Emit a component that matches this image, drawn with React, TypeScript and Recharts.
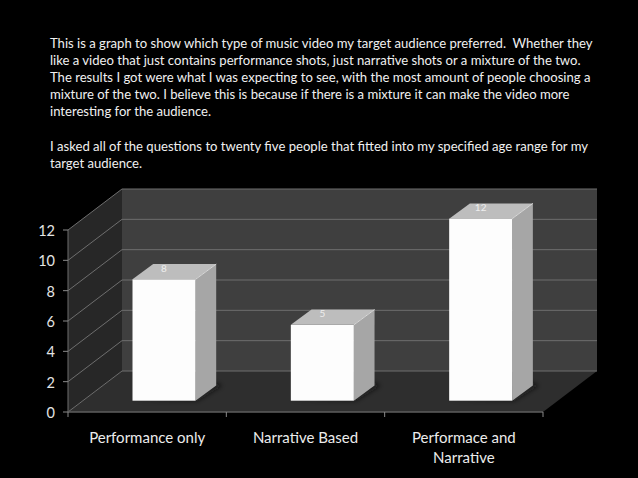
import { Bar, BarChart, Customized, LabelList, Text, XAxis, YAxis } from 'recharts';

const categories = ['Performance only', 'Narrative Based', 'Performace and Narrative'];
const votes = [8, 5, 12];
const yTicks = [0, 2, 4, 6, 8, 10, 12];
const paragraphLines = [
  'This is a graph to show which type of music video my target audience preferred.  Whether they',
  'like a video that just contains performance shots, just narrative shots or a mixture of the two.',
  'The results I got were what I was expecting to see, with the most amount of people choosing a',
  'mixture of the two. I believe this is because if there is a mixture it can make the video more',
  'interesting for the audience.',
  '',
  'I asked all of the questions to twenty five people that fitted into my specified age range for my',
  'target audience.',
];

const chartData = categories.map((name, i) => ({ name, votes: votes[i] }));

const FONT = 'Lato, "Open Sans", sans-serif';
const LEFT = 68;
const RIGHT = 543;
const TOP = 230;
const BOTTOM = 412;
const WALL_DX = 54;
const WALL_DY = 41;
const BAR_DX = 16.5;
const BAR_DY = 11.3;
const SIDE_DX = 20.7;
const SIDE_DY = 15.3;

function pts(list: number[][]) {
  return list.map((p) => p.join(',')).join(' ');
}

// the 3d box the bars stand in: back wall, side wall and floor
function Frame() {
  const yFor = (v: number) => BOTTOM - (v / 12) * (BOTTOM - TOP);
  const step = (RIGHT - LEFT) / categories.length;
  return (
    <g>
      <defs>
        <filter id="blur" x="-30%" y="-30%" width="160%" height="160%">
          <feGaussianBlur stdDeviation="2.5" />
        </filter>
      </defs>
      <polygon
        points={pts([[LEFT + WALL_DX, TOP - WALL_DY], [RIGHT + WALL_DX, TOP - WALL_DY], [RIGHT + WALL_DX, BOTTOM - WALL_DY], [LEFT + WALL_DX, BOTTOM - WALL_DY]])}
        fill="#3f3f3f"
      />
      <polygon
        points={pts([[LEFT, TOP], [LEFT + WALL_DX, TOP - WALL_DY], [LEFT + WALL_DX, BOTTOM - WALL_DY], [LEFT, BOTTOM]])}
        fill="#272727"
      />
      <polygon
        points={pts([[LEFT, BOTTOM], [LEFT + WALL_DX, BOTTOM - WALL_DY], [RIGHT + WALL_DX, BOTTOM - WALL_DY], [RIGHT, BOTTOM]])}
        fill="#2e2e2e"
      />
      {yTicks.map((t) => (
        <g key={t} stroke="#6e6e6e" strokeWidth={1}>
          <line x1={LEFT + WALL_DX} y1={yFor(t) - WALL_DY} x2={RIGHT + WALL_DX} y2={yFor(t) - WALL_DY} />
          <line x1={LEFT} y1={yFor(t)} x2={LEFT + WALL_DX} y2={yFor(t) - WALL_DY} />
        </g>
      ))}
      <line x1={LEFT} y1={TOP} x2={LEFT} y2={BOTTOM} stroke="#6e6e6e" />
      <line x1={LEFT} y1={BOTTOM} x2={RIGHT} y2={BOTTOM} stroke="#5e5e5e" strokeWidth={1.5} />
      {[0, 1, 2, 3].map((i) => (
        <line key={i} x1={LEFT + i * step} y1={BOTTOM} x2={LEFT + i * step} y2={BOTTOM + 5} stroke="#8a8a8a" />
      ))}
    </g>
  );
}

function Bar3D(props: any) {
  const { x, y, width, height } = props;
  const left = x + BAR_DX;
  const right = left + width;
  const top = y - BAR_DY;
  const base = y + height - BAR_DY;
  return (
    <g>
      <polygon
        points={pts([[left - 3, base], [right + 2, base], [right + SIDE_DX + 6, base - SIDE_DY], [right + SIDE_DX, base - SIDE_DY - 3], [right, base - 3]])}
        fill="#161616"
        fillOpacity={0.7}
        filter="url(#blur)"
      />
      <polygon
        points={pts([[right, top], [right + SIDE_DX, top - SIDE_DY], [right + SIDE_DX, base - SIDE_DY], [right, base]])}
        fill="#a6a6a6"
      />
      <polygon
        points={pts([[left, top], [left + SIDE_DX, top - SIDE_DY], [right + SIDE_DX, top - SIDE_DY], [right, top]])}
        fill="#bdbdbd"
      />
      <line x1={right} y1={top} x2={right + SIDE_DX} y2={top - SIDE_DY} stroke="#d8d8d8" />
      <rect x={left} y={top} width={width} height={base - top} fill="#fdfdfd" />
    </g>
  );
}

function BarValue(props: any) {
  const { x, y, width, value } = props;
  return (
    <text
      x={x + width / 2 + BAR_DX}
      y={y - BAR_DY - SIDE_DY / 2}
      textAnchor="middle"
      fontFamily={FONT}
      fontSize={10}
      fill="#eeeeee"
    >
      {value}
    </text>
  );
}

function CategoryTick(props: any) {
  const { x, y, payload } = props;
  return (
    <Text x={x} y={y + 12} width={130} lineHeight={20} textAnchor="middle" verticalAnchor="start" fontFamily={FONT} fontSize={15} fill="#ececec">
      {payload.value}
    </Text>
  );
}

export default function App() {
  return (
    <div style={{ position: 'fixed', left: 0, top: 0, width: 638, height: 478, background: '#000', overflow: 'hidden' }}>
      <div style={{ position: 'absolute', left: 50, top: 35, fontFamily: FONT, fontSize: 13.1, lineHeight: '17.1px', color: '#f0f0f0', whiteSpace: 'pre' }}>
        {paragraphLines.map((line, i) => (
          <div key={i} style={{ height: 17.1 }}>{line}</div>
        ))}
      </div>
      <BarChart
        width={638}
        height={478}
        data={chartData}
        margin={{ top: TOP, right: 638 - RIGHT, bottom: 478 - BOTTOM - 60, left: 20 }}
        style={{ position: 'absolute', left: 0, top: 0 }}
      >
        <Customized component={Frame} />
        <XAxis dataKey="name" interval={0} height={60} axisLine={false} tickLine={false} tick={<CategoryTick />} />
        <YAxis
          width={LEFT - 20}
          domain={[0, 12]}
          ticks={yTicks}
          axisLine={false}
          tickSize={5}
          tickMargin={8}
          tickLine={{ stroke: '#8a8a8a' }}
          tick={{ fill: '#e4e4e4', fontSize: 14.5, fontFamily: FONT, dy: 1 }}
        />
        <Bar dataKey="votes" barSize={63} isAnimationActive={false} shape={<Bar3D />}>
          <LabelList dataKey="votes" content={<BarValue />} />
        </Bar>
      </BarChart>
    </div>
  );
}
